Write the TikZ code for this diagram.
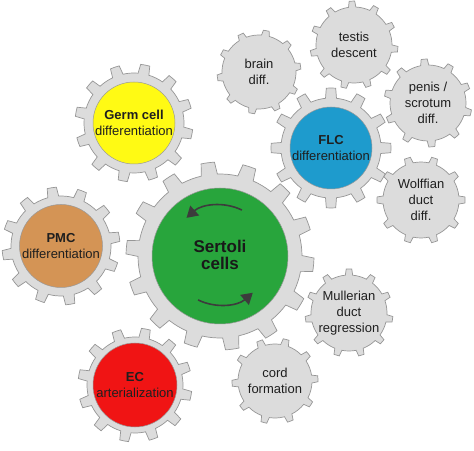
\documentclass[tikz,border=0pt]{standalone}
\usepackage{fontspec}
\setmainfont{Liberation Sans}
\usetikzlibrary{arrows.meta}

\definecolor{gearfill}{RGB}{220,220,220}
\definecolor{gearline}{RGB}{150,150,150}
\definecolor{germyellow}{RGB}{255,250,20}
\definecolor{flcblue}{RGB}{30,155,205}
\definecolor{pmcorange}{RGB}{212,148,85}
\definecolor{sertoligreen}{RGB}{40,165,60}
\definecolor{ecred}{RGB}{240,20,20}
\definecolor{arrowgray}{RGB}{60,60,60}

% teeth, root radius, tip radius, rotation, tooth half width (share of pitch)
\newcommand{\gearpath}[5]{%
  (#4+180/#1:#2)
  \foreach \k [evaluate=\k as \a using #4+\k*360/#1] in {1,...,#1}{
    arc[start angle=\a-180/#1, end angle=\a-#5*360/#1-21.6/#1, radius=#2]
    -- (\a-#5*360/#1:#3)
    arc[start angle=\a-#5*360/#1, end angle=\a+#5*360/#1, radius=#3]
    -- (\a+#5*360/#1+21.6/#1:#2)
    arc[start angle=\a+#5*360/#1+21.6/#1, end angle=\a+180/#1, radius=#2]
  } -- cycle
}

\begin{document}
\begin{tikzpicture}[
    x=1pt, y=1pt,
    gear/.style={fill=gearfill, draw=gearline, line width=0.7pt},
    disc/.style={draw=black!40, line width=0.5pt},
    tag/.style={align=center, inner sep=0pt, text=black!88, font=\fontsize{13}{16}\selectfont},
    bigtag/.style={align=center, inner sep=0pt, text=black!90, font=\bfseries\fontsize{17}{17}\selectfont},
    turn/.style={-{Triangle[length=11pt, width=13pt]}, line width=1.6pt, draw=arrowgray}
]
\useasboundingbox (0,0) rectangle (474,450);

% Small gears
\draw[gear, shift={(259,378)}] \gearpath{10}{37}{42}{80}{0.11};
\draw[gear, shift={(354,405)}] \gearpath{11}{38}{44}{60}{0.11};
\draw[gear, shift={(428,347)}] \gearpath{10}{38}{44}{95}{0.11};
\draw[gear, shift={(421,250)}] \gearpath{10}{38}{44}{72}{0.11};
\draw[gear, shift={(349,137)}] \gearpath{11}{38}{44}{90}{0.11};
\draw[gear, shift={(275,69)}] \gearpath{10}{37}{43}{75}{0.11};

\node[tag] (brain) at (259,378) {brain\\diff.};
\node[tag] (testis) at (354,405) {testis\\descent};
\node[tag] (penis) at (428,347) {penis /\\scrotum\\diff.};
\node[tag] (wolffian) at (421,250) {Wolffian\\duct\\diff.};
\node[tag] (mullerian) at (349,137) {Mullerian\\duct\\regression};
\node[tag] (cord) at (275,69) {cord\\formation};

% Cell gears
\draw[gear, shift={(134,327)}] \gearpath{12}{50}{59}{79}{0.15};
\draw[disc, fill=germyellow] (134,327) circle[radius=41];
\node[tag] (germ) at (134,327) {\textbf{Germ cell}\\differentiation};

\draw[gear, shift={(331,302)}] \gearpath{12}{50}{60}{90}{0.15};
\draw[disc, fill=flcblue] (331,302) circle[radius=41];
\node[tag] (flc) at (331,302) {\textbf{FLC}\\differentiation};

\draw[gear, shift={(61,204)}] \gearpath{12}{50}{59}{99}{0.15};
\draw[disc, fill=pmcorange] (61,204) circle[radius=41.5];
\node[tag] (pmc) at (61,204) {\textbf{PMC}\\differentiation};

\draw[gear, shift={(135,65)}] \gearpath{12}{48}{57}{79}{0.15};
\draw[disc, fill=ecred] (135,65) circle[radius=42];
\node[tag] (ec) at (135,65) {\textbf{EC}\\arterialization};

% Sertoli gear
\draw[gear, shift={(220,194)}] \gearpath{14}{82}{94}{97.5}{0.16};
\draw[disc, fill=sertoligreen] (220,194) circle[radius=68];
\node[bigtag] (sertoli) at (220,195) {Sertoli\\cells};

\draw[turn] ([shift={(64:50)}]sertoli.center) arc[start angle=64, end angle=132, radius=50];
\draw[turn] ([shift={(244:50)}]sertoli.center) arc[start angle=244, end angle=311, radius=50];

\end{tikzpicture}
\end{document}
